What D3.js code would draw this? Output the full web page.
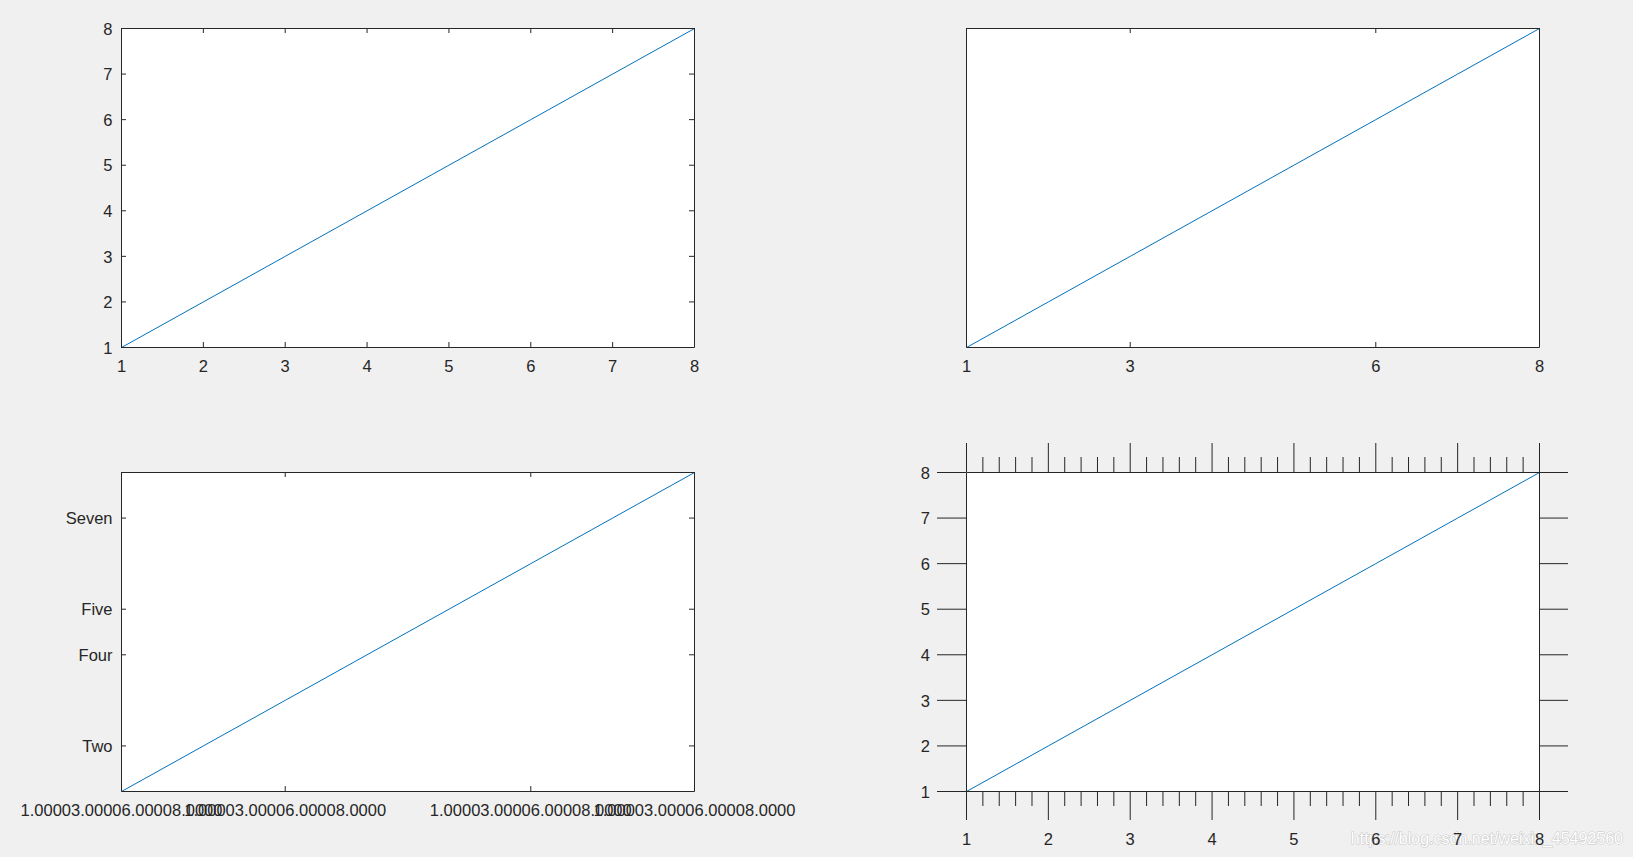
<!DOCTYPE html>
<html><head><meta charset="utf-8">
<script src="https://cdn.jsdelivr.net/npm/d3@7"></script>
<style>
html,body{margin:0;padding:0;background:#f0f0f0;overflow:hidden}
</style></head><body>
<svg id="chart" width="1633" height="857"></svg>
<script>
// ---- data ----
const xValues = [1, 2, 3, 4, 5, 6, 7, 8];
const yValues = [1, 2, 3, 4, 5, 6, 7, 8];
const ticksAll = [1, 2, 3, 4, 5, 6, 7, 8];
const xTicksSparse = [1, 3, 6, 8];
const yTicksNamed = [2, 4, 5, 7];
const yLabelsNamed = ["Two", "Four", "Five", "Seven"];
const xLabelRepeated = "1.00003.00006.00008.0000";
const watermarkText = "https://blog.csdn.net/weixin_45492560";

// ---- style ----
const FONT = '"Liberation Sans", Arial, Helvetica, sans-serif';
const FS = 16.5;
const AX = "#262626";
const LINE = "#0072BD";
const W = 573, H = 319;

const svg = d3.select("#chart");
svg.append("rect").attr("width", 1633).attr("height", 857).attr("fill", "#f0f0f0");

// watermark (behind chart text)
svg.append("text")
  .attr("x", 1623).attr("y", 844)
  .attr("text-anchor", "end")
  .attr("font-family", FONT).attr("font-size", 16)
  .attr("fill", "#ffffff")
  .attr("stroke", "#a8a8a8").attr("stroke-width", 1.2).attr("stroke-opacity", 0.55)
  .attr("paint-order", "stroke")
  .text(watermarkText);

function styleAxis(g) {
  g.attr("font-family", FONT).attr("font-size", FS);
  g.selectAll("path,line").attr("stroke", AX).attr("stroke-width", 1);
  g.selectAll("text").attr("fill", AX);
}
function yText(g) { g.selectAll("text").attr("dy", "0.38em"); }

function panel(left, top) {
  const g = svg.append("g").attr("transform", `translate(${left},${top})`);
  const x = d3.scaleLinear().domain([1, 8]).range([0, W]);
  const y = d3.scaleLinear().domain([1, 8]).range([H, 0]);
  g.append("rect").attr("x", 0.5).attr("y", 0.5).attr("width", W).attr("height", H).attr("fill", "#ffffff");
  const data = xValues.map((v, i) => [v, yValues[i]]);
  g.append("path")
    .datum(data)
    .attr("transform", "translate(0.5,0.5)")
    .attr("fill", "none").attr("stroke", LINE).attr("stroke-width", 1)
    .attr("d", d3.line().x(d => x(d[0])).y(d => y(d[1])));
  return { g, x, y };
}

// ---- panel 1: top-left ----
(function () {
  const { g, x, y } = panel(121, 28);
  g.append("g").attr("transform", `translate(0,${H})`)
    .call(d3.axisBottom(x).tickValues(ticksAll).tickFormat(d3.format("d")).tickSizeInner(-5).tickSizeOuter(0).tickPadding(13))
    .call(styleAxis);
  g.append("g")
    .call(d3.axisTop(x).tickValues(ticksAll).tickFormat("").tickSizeInner(-5).tickSizeOuter(0))
    .call(styleAxis);
  g.append("g")
    .call(d3.axisLeft(y).tickValues(ticksAll).tickFormat(d3.format("d")).tickSizeInner(-5).tickSizeOuter(0).tickPadding(8.5))
    .call(styleAxis).call(yText);
  g.append("g").attr("transform", `translate(${W},0)`)
    .call(d3.axisRight(y).tickValues(ticksAll).tickFormat("").tickSizeInner(-5).tickSizeOuter(0))
    .call(styleAxis);
})();

// ---- panel 2: top-right ----
(function () {
  const { g, x, y } = panel(966, 28);
  g.append("g").attr("transform", `translate(0,${H})`)
    .call(d3.axisBottom(x).tickValues(xTicksSparse).tickFormat(d3.format("d")).tickSizeInner(-5).tickSizeOuter(0).tickPadding(13))
    .call(styleAxis);
  g.append("g")
    .call(d3.axisTop(x).tickValues(xTicksSparse).tickFormat("").tickSizeInner(-5).tickSizeOuter(0))
    .call(styleAxis);
  g.append("g")
    .call(d3.axisLeft(y).tickValues([]).tickSizeOuter(0))
    .call(styleAxis);
  g.append("g").attr("transform", `translate(${W},0)`)
    .call(d3.axisRight(y).tickValues([]).tickSizeOuter(0))
    .call(styleAxis);
})();

// ---- panel 3: bottom-left ----
(function () {
  const { g, x, y } = panel(121, 472);
  g.append("g").attr("transform", `translate(0,${H})`)
    .call(d3.axisBottom(x).tickValues(xTicksSparse).tickFormat(() => xLabelRepeated).tickSizeInner(-5).tickSizeOuter(0).tickPadding(13))
    .call(styleAxis);
  g.append("g")
    .call(d3.axisTop(x).tickValues(xTicksSparse).tickFormat("").tickSizeInner(-5).tickSizeOuter(0))
    .call(styleAxis);
  g.append("g")
    .call(d3.axisLeft(y).tickValues(yTicksNamed).tickFormat((d, i) => yLabelsNamed[i]).tickSizeInner(-5).tickSizeOuter(0).tickPadding(8.5))
    .call(styleAxis).call(yText);
  g.append("g").attr("transform", `translate(${W},0)`)
    .call(d3.axisRight(y).tickValues(yTicksNamed).tickFormat("").tickSizeInner(-5).tickSizeOuter(0))
    .call(styleAxis);
})();

// ---- panel 4: bottom-right (outward long ticks + minor ticks) ----
(function () {
  const { g, x, y } = panel(966, 472);
  const minor = x.ticks(35).filter(v => Math.abs(v - Math.round(v)) > 1e-6);
  g.append("g").attr("transform", `translate(0,${H})`)
    .call(d3.axisBottom(x).tickValues(minor).tickFormat("").tickSizeInner(15).tickSizeOuter(0))
    .call(styleAxis).call(s => s.select(".domain").remove());
  g.append("g")
    .call(d3.axisTop(x).tickValues(minor).tickFormat("").tickSizeInner(15).tickSizeOuter(0))
    .call(styleAxis).call(s => s.select(".domain").remove());
  g.append("g").attr("transform", `translate(0,${H})`)
    .call(d3.axisBottom(x).tickValues(ticksAll).tickFormat(d3.format("d")).tickSizeInner(29).tickSizeOuter(0).tickPadding(13))
    .call(styleAxis);
  g.append("g")
    .call(d3.axisTop(x).tickValues(ticksAll).tickFormat("").tickSizeInner(29).tickSizeOuter(0))
    .call(styleAxis);
  g.append("g")
    .call(d3.axisLeft(y).tickValues(ticksAll).tickFormat(d3.format("d")).tickSizeInner(29).tickSizeOuter(0).tickPadding(7))
    .call(styleAxis).call(yText);
  g.append("g").attr("transform", `translate(${W},0)`)
    .call(d3.axisRight(y).tickValues(ticksAll).tickFormat("").tickSizeInner(29).tickSizeOuter(0))
    .call(styleAxis);
})();
</script>
</body></html>
